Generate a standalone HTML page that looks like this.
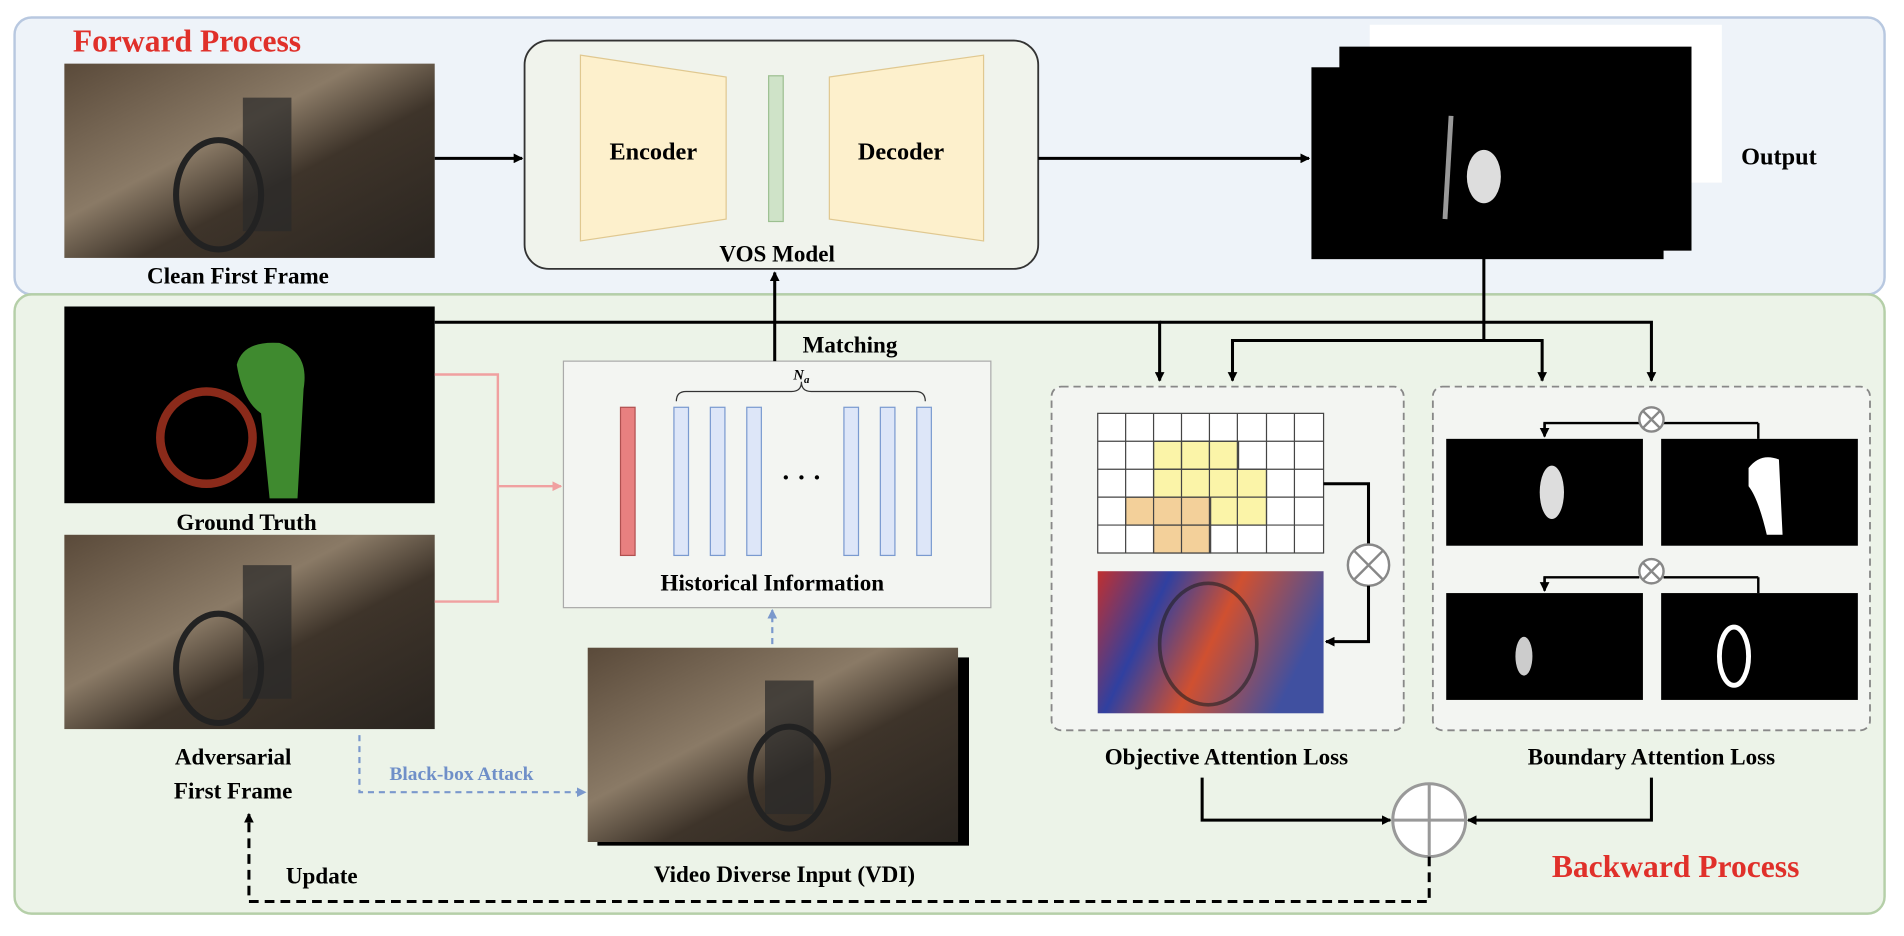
<!DOCTYPE html>
<html><head><meta charset="utf-8"><style>
html,body{margin:0;padding:0;background:#fff;}
svg{display:block;}
text{font-family:"Liberation Serif",serif;font-weight:bold;}
</style></head><body>
<svg width="1904" height="936" viewBox="0 0 1568 770" xmlns="http://www.w3.org/2000/svg">
<defs>
<marker id="ak" markerWidth="8" markerHeight="8" refX="7" refY="4" orient="auto" markerUnits="userSpaceOnUse"><path d="M0,0 L8,4 L0,8 z" fill="#000"/></marker>
<marker id="ap" markerWidth="8" markerHeight="8" refX="7" refY="4" orient="auto" markerUnits="userSpaceOnUse"><path d="M0,0 L8,4 L0,8 z" fill="#f0a0a0"/></marker>
<marker id="ab" markerWidth="8" markerHeight="8" refX="7" refY="4" orient="auto" markerUnits="userSpaceOnUse"><path d="M0,0 L8,4 L0,8 z" fill="#7a98cc"/></marker>
<linearGradient id="ph" x1="0" y1="0" x2="1" y2="1">
<stop offset="0" stop-color="#5a4a3a"/><stop offset="0.4" stop-color="#8a7a66"/><stop offset="0.6" stop-color="#3e342a"/><stop offset="1" stop-color="#2a2520"/></linearGradient>
<linearGradient id="hm" x1="0" y1="0" x2="1" y2="0.3">
<stop offset="0" stop-color="#c03030"/><stop offset="0.3" stop-color="#3040a0"/><stop offset="0.6" stop-color="#d05030"/><stop offset="1" stop-color="#4050a0"/></linearGradient>
</defs>
<!-- panels -->
<rect x="12" y="14" width="1540" height="228" rx="14" fill="#eef3f9" stroke="#b8c8e0" stroke-width="2"/>
<rect x="12" y="242" width="1540" height="510" rx="14" fill="#ecf3e8" stroke="#b5cfa8" stroke-width="2"/>
<text x="60" y="42" font-size="26" fill="#e0302a">Forward Process</text>
<text x="1278" y="722" font-size="26" fill="#e0302a">Backward Process</text>

<!-- clean frame -->
<rect x="53" y="52" width="305" height="160" fill="url(#ph)"/>
<rect x="200" y="80" width="40" height="110" fill="#2a2a2a" opacity="0.7"/>
<ellipse cx="180" cy="160" rx="35" ry="45" fill="none" stroke="#222" stroke-width="5"/>
<text x="196" y="233" font-size="19" text-anchor="middle">Clean First Frame</text>

<!-- VOS -->
<rect x="432" y="33" width="423" height="188" rx="20" fill="#f0f3ec" stroke="#333" stroke-width="1.5"/>
<path d="M478,45 L598,63 L598,180 L478,198 z" fill="#fdf0cc" stroke="#e0c890"/>
<rect x="633" y="62" width="12" height="120" fill="#cfe3c8" stroke="#9cbf90"/>
<path d="M683,63 L810,45 L810,198 L683,180 z" fill="#fdf0cc" stroke="#e0c890"/>
<text x="538" y="131" font-size="20" text-anchor="middle">Encoder</text>
<text x="742" y="131" font-size="20" text-anchor="middle">Decoder</text>
<text x="640" y="215" font-size="19" text-anchor="middle">VOS Model</text>
<line x1="358" y1="130" x2="430" y2="130" stroke="#000" stroke-width="2.5" marker-end="url(#ak)"/>
<line x1="855" y1="130" x2="1078" y2="130" stroke="#000" stroke-width="2.5" marker-end="url(#ak)"/>

<!-- output -->
<rect x="1128" y="20" width="290" height="130" fill="#fff"/>
<rect x="1103" y="38" width="290" height="168" fill="#000"/>
<rect x="1080" y="55" width="290" height="158" fill="#000"/>
<ellipse cx="1222" cy="145" rx="14" ry="22" fill="#ddd"/>
<path d="M1195,95 L1190,180" stroke="#999" stroke-width="4"/>
<text x="1465" y="135" font-size="20" text-anchor="middle">Output</text>

<!-- ground truth -->
<rect x="53" y="252" width="305" height="162" fill="#000"/>
<path d="M195,300 Q200,280 230,282 Q255,290 250,320 L245,410 L222,410 L215,340 Q200,330 195,300 z" fill="#3f8a2f"/>
<circle cx="170" cy="360" r="38" fill="none" stroke="#8a2a1a" stroke-width="7"/>
<text x="203" y="436" font-size="19" text-anchor="middle">Ground Truth</text>

<!-- adversarial -->
<rect x="53" y="440" width="305" height="160" fill="url(#ph)"/>
<rect x="200" y="465" width="40" height="110" fill="#2a2a2a" opacity="0.7"/>
<ellipse cx="180" cy="550" rx="35" ry="45" fill="none" stroke="#222" stroke-width="5"/>
<text x="192" y="629" font-size="19" text-anchor="middle">Adversarial</text>
<text x="192" y="657" font-size="19" text-anchor="middle">First Frame</text>

<!-- pink connectors -->
<path d="M358,308 L410,308 L410,495 L358,495" fill="none" stroke="#f0a0a0" stroke-width="2"/>
<line x1="410" y1="400" x2="462" y2="400" stroke="#f0a0a0" stroke-width="2" marker-end="url(#ap)"/>

<!-- historical info -->
<rect x="464" y="297" width="352" height="203" fill="#f3f5f2" stroke="#aaa"/>
<rect x="511" y="335" width="12" height="122" fill="#e88080" stroke="#b05050"/>
<g fill="#dde6f8" stroke="#7a9ad0">
<rect x="555" y="335" width="12" height="122"/><rect x="585" y="335" width="12" height="122"/><rect x="615" y="335" width="12" height="122"/>
<rect x="695" y="335" width="12" height="122"/><rect x="725" y="335" width="12" height="122"/><rect x="755" y="335" width="12" height="122"/>
</g>
<text x="660" y="400" font-size="22" text-anchor="middle">· · ·</text>
<path d="M557,330 Q557,322 565,322 L652,322 Q660,322 660,314 Q660,322 668,322 L754,322 Q762,322 762,330" fill="none" stroke="#333" stroke-width="1"/>
<text x="660" y="312" font-size="12" font-style="italic" font-weight="normal" text-anchor="middle">N<tspan font-size="9" dy="3">a</tspan></text>
<text x="636" y="486" font-size="19" text-anchor="middle">Historical Information</text>
<line x1="638" y1="297" x2="638" y2="224" stroke="#000" stroke-width="2.5" marker-end="url(#ak)"/>
<text x="700" y="290" font-size="19" text-anchor="middle">Matching</text>

<!-- connectors top of backward -->
<path d="M358,265 L955,265 L955,313" fill="none" stroke="#000" stroke-width="2.5" marker-end="url(#ak)"/>
<path d="M955,265 L1360,265 L1360,313" fill="none" stroke="#000" stroke-width="2.5" marker-end="url(#ak)"/>
<path d="M1222,212 L1222,280 L1015,280 L1015,313" fill="none" stroke="#000" stroke-width="2.5" marker-end="url(#ak)"/>
<path d="M1222,280 L1270,280 L1270,313" fill="none" stroke="#000" stroke-width="2.5" marker-end="url(#ak)"/>

<!-- objective box -->
<rect x="866" y="318" width="290" height="283" rx="8" fill="#f3f5f2" stroke="#888" stroke-width="1.5" stroke-dasharray="6,4"/>
<g stroke="#444" stroke-width="1">
<rect x="904" y="340" width="186" height="115" fill="#fff"/>
<rect x="950" y="363" width="70" height="23" fill="#fbf4a8"/>
<rect x="950" y="386" width="93" height="46" fill="#fbf4a8"/>
<rect x="927" y="409" width="70" height="23" fill="#f3d09a"/>
<rect x="950" y="432" width="47" height="23" fill="#f3d09a"/>
<rect x="973" y="363" width="23" height="23" fill="#fbf4a8"/>
</g>
<g stroke="#444" stroke-width="1">
<line x1="927" y1="340" x2="927" y2="455"/><line x1="950" y1="340" x2="950" y2="455"/><line x1="973" y1="340" x2="973" y2="455"/><line x1="996" y1="340" x2="996" y2="455"/><line x1="1019" y1="340" x2="1019" y2="455"/><line x1="1043" y1="340" x2="1043" y2="455"/><line x1="1066" y1="340" x2="1066" y2="455"/>
<line x1="904" y1="363" x2="1090" y2="363"/><line x1="904" y1="386" x2="1090" y2="386"/><line x1="904" y1="409" x2="1090" y2="409"/><line x1="904" y1="432" x2="1090" y2="432"/>
</g>
<rect x="904" y="470" width="186" height="117" fill="url(#hm)"/>
<ellipse cx="995" cy="530" rx="40" ry="50" fill="none" stroke="#222" stroke-width="3" opacity="0.6"/>
<path d="M1090,398 L1127,398 L1127,448" fill="none" stroke="#000" stroke-width="2.5"/>
<circle cx="1127" cy="465" r="17" fill="#fff" stroke="#888" stroke-width="2"/>
<path d="M1115,453 L1139,477 M1139,453 L1115,477" stroke="#888" stroke-width="2"/>
<path d="M1127,482 L1127,528 L1092,528" fill="none" stroke="#000" stroke-width="2.5" marker-end="url(#ak)"/>
<text x="1010" y="629" font-size="19" text-anchor="middle">Objective Attention Loss</text>

<!-- boundary box -->
<rect x="1180" y="318" width="360" height="283" rx="8" fill="#f3f5f2" stroke="#888" stroke-width="1.5" stroke-dasharray="6,4"/>
<rect x="1191" y="361" width="162" height="88" fill="#000"/>
<rect x="1368" y="361" width="162" height="88" fill="#000"/>
<rect x="1191" y="488" width="162" height="88" fill="#000"/>
<rect x="1368" y="488" width="162" height="88" fill="#000"/>
<ellipse cx="1278" cy="405" rx="10" ry="22" fill="#ddd"/>
<path d="M1440,385 Q1450,372 1465,378 L1468,440 L1455,440 Q1448,410 1440,400 z" fill="#fff"/>
<ellipse cx="1255" cy="540" rx="7" ry="16" fill="#ccc"/>
<ellipse cx="1428" cy="540" rx="12" ry="24" fill="none" stroke="#fff" stroke-width="4"/>
<path d="M1448,348 L1448,361 M1448,348 L1370,348 M1350,348 L1272,348 L1272,359" fill="none" stroke="#000" stroke-width="2"/>
<path d="M1272,348 L1272,359" stroke="#000" stroke-width="2" marker-end="url(#ak)"/>
<circle cx="1360" cy="345" r="10" fill="#fff" stroke="#888" stroke-width="2"/>
<path d="M1353,338 L1367,352 M1367,338 L1353,352" stroke="#888" stroke-width="2"/>
<path d="M1448,475 L1370,475 M1350,475 L1272,475 L1272,486 M1448,475 L1448,488" fill="none" stroke="#000" stroke-width="2"/>
<path d="M1272,475 L1272,486" stroke="#000" stroke-width="2" marker-end="url(#ak)"/>
<circle cx="1360" cy="470" r="10" fill="#fff" stroke="#888" stroke-width="2"/>
<path d="M1353,463 L1367,477 M1367,463 L1353,477" stroke="#888" stroke-width="2"/>
<text x="1360" y="629" font-size="19" text-anchor="middle">Boundary Attention Loss</text>

<!-- oplus -->
<path d="M990,640 L990,675 L1145,675" fill="none" stroke="#000" stroke-width="2.5" marker-end="url(#ak)"/>
<path d="M1360,640 L1360,675 L1209,675" fill="none" stroke="#000" stroke-width="2.5" marker-end="url(#ak)"/>
<circle cx="1177" cy="675" r="30" fill="#fff" stroke="#999" stroke-width="2.5"/>
<path d="M1147,675 L1207,675 M1177,645 L1177,705" stroke="#999" stroke-width="2.5"/>
<path d="M1177,705 L1177,742 L205,742 L205,670" fill="none" stroke="#000" stroke-width="2.5" stroke-dasharray="8,5" marker-end="url(#ak)"/>
<text x="265" y="727" font-size="19" text-anchor="middle">Update</text>

<!-- VDI -->
<rect x="492" y="541" width="306" height="155" fill="#000"/>
<rect x="484" y="533" width="305" height="160" fill="url(#ph)"/>
<rect x="630" y="560" width="40" height="110" fill="#2a2a2a" opacity="0.7"/>
<ellipse cx="650" cy="640" rx="32" ry="42" fill="none" stroke="#222" stroke-width="5"/>
<text x="646" y="726" font-size="19" text-anchor="middle">Video Diverse Input (VDI)</text>
<path d="M296,605 L296,652 L482,652" fill="none" stroke="#7a98cc" stroke-width="1.8" stroke-dasharray="5,4" marker-end="url(#ab)"/>
<text x="380" y="642" font-size="16" fill="#6f8fc8" text-anchor="middle">Black-box Attack</text>
<path d="M636,530 L636,502" fill="none" stroke="#7a98cc" stroke-width="1.8" stroke-dasharray="5,4" marker-end="url(#ab)"/>
</svg>
</body></html>
